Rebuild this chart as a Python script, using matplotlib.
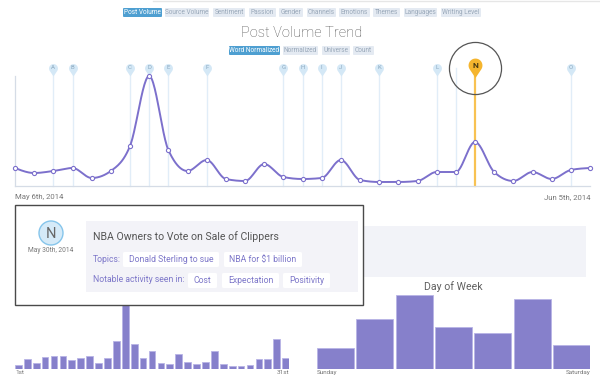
import numpy as np
import matplotlib
matplotlib.use('Agg')
import matplotlib.pyplot as plt
from matplotlib.patches import Rectangle, FancyBboxPatch, Circle
from matplotlib.path import Path

plt.rcParams['font.family'] = ['Roboto', 'DejaVu Sans']

# --- data ---
trend_vals = [18, 13, 15, 18, 8, 15, 40, 110, 36, 15, 26, 7, 5, 22, 9, 7,
              8, 26, 6, 4, 4, 5, 14, 14, 44, 14, 5, 14, 7, 16, 18]
event_labels = ['A', 'B', 'C', 'D', 'E', 'F', 'G', 'H', 'I', 'J', 'K', 'L', 'M', 'N', 'O']
event_days = [2, 3, 6, 7, 8, 10, 14, 15, 16, 17, 19, 22, 23, 24, 29]
selected_event = 'N'
start_label, end_label = 'May 6th, 2014', 'Jun 5th, 2014'

month_days = list(range(1, 32))
month_vals = [4.3, 10.3, 6, 11.7, 12.7, 12.7, 9, 11, 13.3, 6.3, 11.3, 27.7, 75,
              25, 11.3, 18, 6, 5, 15, 7, 5.3, 7, 18, 5, 3, 3, 4.3, 9.7, 10.3, 30, 11]
week_days = ['Sunday', 'Monday', 'Tuesday', 'Wednesday', 'Thursday', 'Friday', 'Saturday']
week_vals = [21, 50, 74, 42, 36, 70, 24]

tabs = ['Post Volume', 'Source Volume', 'Sentiment', 'Passion', 'Gender', 'Channels',
        'Emotions', 'Themes', 'Languages', 'Writing Level']
modes = ['Word Normalized', 'Normalized', 'Universe', 'Count']

W, H = 600, 375
PURPLE = '#7C70CC'
BAR = '#8680CB'


def px_axes(x0, y0, x1, y1, z=1):
    a = fig.add_axes([x0 / W, 1 - y1 / H, (x1 - x0) / W, (y1 - y0) / H])
    a.set_zorder(z)
    return a


def monotone(y, n=24):
    # d3-style monotoneX curve through the points
    y = np.asarray(y, float)
    s = np.diff(y)
    m = np.zeros_like(y)
    for i in range(1, len(y) - 1):
        s0, s1 = s[i - 1], s[i]
        p = (s0 + s1) / 2
        m[i] = (np.sign(s0) + np.sign(s1)) * min(abs(s0), abs(s1), 0.5 * abs(p))
    m[0] = (3 * s[0] - m[1]) / 2
    m[-1] = (3 * s[-1] - m[-2]) / 2
    xs, ys = [], []
    t = np.linspace(0, 1, n, endpoint=False)
    for i in range(len(y) - 1):
        h00 = 2 * t**3 - 3 * t**2 + 1
        h10 = t**3 - 2 * t**2 + t
        h01 = -2 * t**3 + 3 * t**2
        h11 = t**3 - t**2
        xs.append(i + t)
        ys.append(h00 * y[i] + h10 * m[i] + h01 * y[i + 1] + h11 * m[i + 1])
    xs.append([len(y) - 1])
    ys.append([y[-1]])
    return np.concatenate(xs), np.concatenate(ys)


# teardrop pin marker
th = np.radians(np.linspace(-33.75, 213.75, 40))
pv = list(zip(np.cos(th), np.sin(th))) + [(0, -1.8), (np.cos(th[0]), np.sin(th[0]))]
pin = Path(pv, [Path.MOVETO] + [Path.LINETO] * (len(pv) - 2) + [Path.CLOSEPOLY])

fig = plt.figure(figsize=(6, 3.75), dpi=100)
bg = fig.add_axes([0, 0, 1, 1])
bg.set_xlim(0, W)
bg.set_ylim(H, 0)
bg.axis('off')

# header buttons
bg.plot([153, 600], [1, 1], color='#E6E6E6', lw=1)
tab_x = [(123, 162), (165, 209), (213, 245), (249, 276), (279, 303), (307, 336),
         (339, 370), (373, 400), (404, 437), (441, 481)]
for i, (lab, (a, b)) in enumerate(zip(tabs, tab_x)):
    on = i == 0
    bg.add_patch(FancyBboxPatch((a, 8), b - a, 9, boxstyle='round,pad=0,rounding_size=1',
                                fc='#4E9FD1' if on else '#E4EAF2', ec='none'))
    bg.text((a + b) / 2, 12.8, lab, ha='center', va='center', fontsize=4.7,
            color='white' if on else '#9AA9BA')
bg.text(302, 33, 'Post Volume Trend', ha='center', va='center', fontsize=10.5,
        color='#555555', fontweight='light')
mode_x = [(229, 280), (283, 318), (322, 350), (353, 374)]
for i, (lab, (a, b)) in enumerate(zip(modes, mode_x)):
    on = i == 0
    bg.add_patch(FancyBboxPatch((a, 46), b - a, 9, boxstyle='round,pad=0,rounding_size=1',
                                fc='#4E9FD1' if on else '#E4EAF2', ec='none'))
    bg.text((a + b) / 2, 50.8, lab, ha='center', va='center', fontsize=4.7,
            color='white' if on else '#9AA9BA')

bg.text(15, 197, start_label, ha='left', va='center', fontsize=5.6, color='#777777')
bg.text(590, 197, end_label, ha='right', va='center', fontsize=5.6, color='#777777')
bg.plot([15, 363], [204.5, 204.5], color='#E4E6EA', lw=0.8)
bg.add_patch(Rectangle((363, 226), 223, 51, fc='#F2F3F8', ec='none'))

# --- trend line chart ---
ax = px_axes(15, 76, 590, 186)
ax.set_xlim(0, len(trend_vals) - 1)
ax.set_ylim(0, max(trend_vals))
ax.set_facecolor('none')
for sp in ['top', 'right']:
    ax.spines[sp].set_visible(False)
for sp in ['left', 'bottom']:
    ax.spines[sp].set_color('#D5DCE6')
    ax.spines[sp].set_linewidth(0.9)
ax.set_xticks([])
ax.set_yticks([])

xt = ax.get_xaxis_transform()
for lab, d in zip(event_labels, event_days):
    if lab == selected_event:
        ax.plot([d, d], [0, 1.1], color='#F8C252', lw=1.6, transform=xt, clip_on=False, zorder=2)
        ax.plot(d, 1.1, marker=pin, markersize=18, color='#F5B52E', mec='none',
                transform=xt, clip_on=False, zorder=6)
        ax.text(d, 1.1, lab, ha='center', va='center', fontsize=6, fontweight='bold',
                color='#4A3A12', transform=xt, zorder=7, clip_on=False)
        ax.plot(d, 1.073, marker='o', markersize=37.5, mfc='none', mec='#555555', mew=0.9,
                transform=xt, clip_on=False, zorder=6)
    else:
        ax.plot([d, d], [0, 1.07], color='#E1EDF8', lw=1, transform=xt, clip_on=False, zorder=1)
        if lab == 'M':
            continue
        ax.plot(d, 1.073, marker=pin, markersize=11.5, color='#D4E8F6', mec='none',
                transform=xt, clip_on=False, zorder=4)
        ax.text(d, 1.075, lab, ha='center', va='center', fontsize=4.3,
                color='#8AA8BF', transform=xt, zorder=5, clip_on=False)

sx, sy = monotone(trend_vals)
ax.plot(sx, sy, color=PURPLE, lw=1.4, zorder=3, clip_on=False)
ax.plot(range(len(trend_vals)), trend_vals, 'o', ms=3, mfc='white', mec=PURPLE,
        mew=0.8, zorder=4, clip_on=False)

# --- day of month ---
dm = px_axes(15, 294, 289, 369)
dm.bar(range(len(month_days)), month_vals, width=0.75, color=BAR, edgecolor='#B8B4E6', lw=0.6)
dm.set_xlim(-0.375, len(month_days) - 0.625)
dm.set_ylim(0, 75)
dm.axis('off')
bg.text(15, 375, '1st', ha='left', va='bottom', fontsize=4.6, color='#777777')
bg.text(289, 375, '31st', ha='right', va='bottom', fontsize=4.6, color='#777777')

# --- day of week ---
dw = px_axes(317, 295, 590, 369)
dw.bar(range(len(week_days)), week_vals, width=0.94, color=BAR, edgecolor='#B8B4E6', lw=0.6)
dw.set_xlim(-0.47, len(week_days) - 0.53)
dw.set_ylim(0, 74)
dw.axis('off')
bg.text(453, 287, 'Day of Week', ha='center', va='center', fontsize=7.6, color='#606060')
bg.text(317, 375, week_days[0], ha='left', va='bottom', fontsize=4.6, color='#777777')
bg.text(590, 375, week_days[-1], ha='right', va='bottom', fontsize=4.6, color='#777777')

# --- popup card ---
pop = fig.add_axes([0, 0, 1, 1])
pop.set_zorder(10)
pop.set_xlim(0, W)
pop.set_ylim(H, 0)
pop.axis('off')
pop.add_patch(Rectangle((15, 205), 348, 100, fc='white', ec='#4A4A4A', lw=1))
pop.add_patch(Rectangle((86, 221), 272, 71, fc='#F3F3F8', ec='none'))
pop.add_patch(Circle((51, 233), 12, fc='#D5EAF8', ec='#86C5EB', lw=1))
pop.text(51, 233.5, 'N', ha='center', va='center', fontsize=10.5, color='#666666')
pop.text(51, 250, 'May 30th, 2014', ha='center', va='center', fontsize=4.8, color='#777777')
pop.text(93, 237, 'NBA Owners to Vote on Sale of Clippers', ha='left', va='center',
         fontsize=7.6, color='#555555')
TAGC = '#7D77C9'
pop.text(93, 259.5, 'Topics:', ha='left', va='center', fontsize=6.2, color=TAGC)
pop.text(93, 280, 'Notable activity seen in:', ha='left', va='center', fontsize=6.2, color=TAGC)
tags = [('Donald Sterling to sue', 123, 219, 252), ('NBA for $1 billion', 224, 302, 252),
        ('Cost', 188, 217, 273), ('Expectation', 222, 279, 273), ('Positivity', 283, 330, 273)]
for lab, a, b, top in tags:
    pop.add_patch(FancyBboxPatch((a, top), b - a, 15, boxstyle='round,pad=0,rounding_size=1.5',
                                 fc='white', ec='none'))
    pop.text((a + b) / 2, top + 7.7, lab, ha='center', va='center', fontsize=6.2, color=TAGC)

plt.savefig('out.png', dpi=100)
plt.close()
